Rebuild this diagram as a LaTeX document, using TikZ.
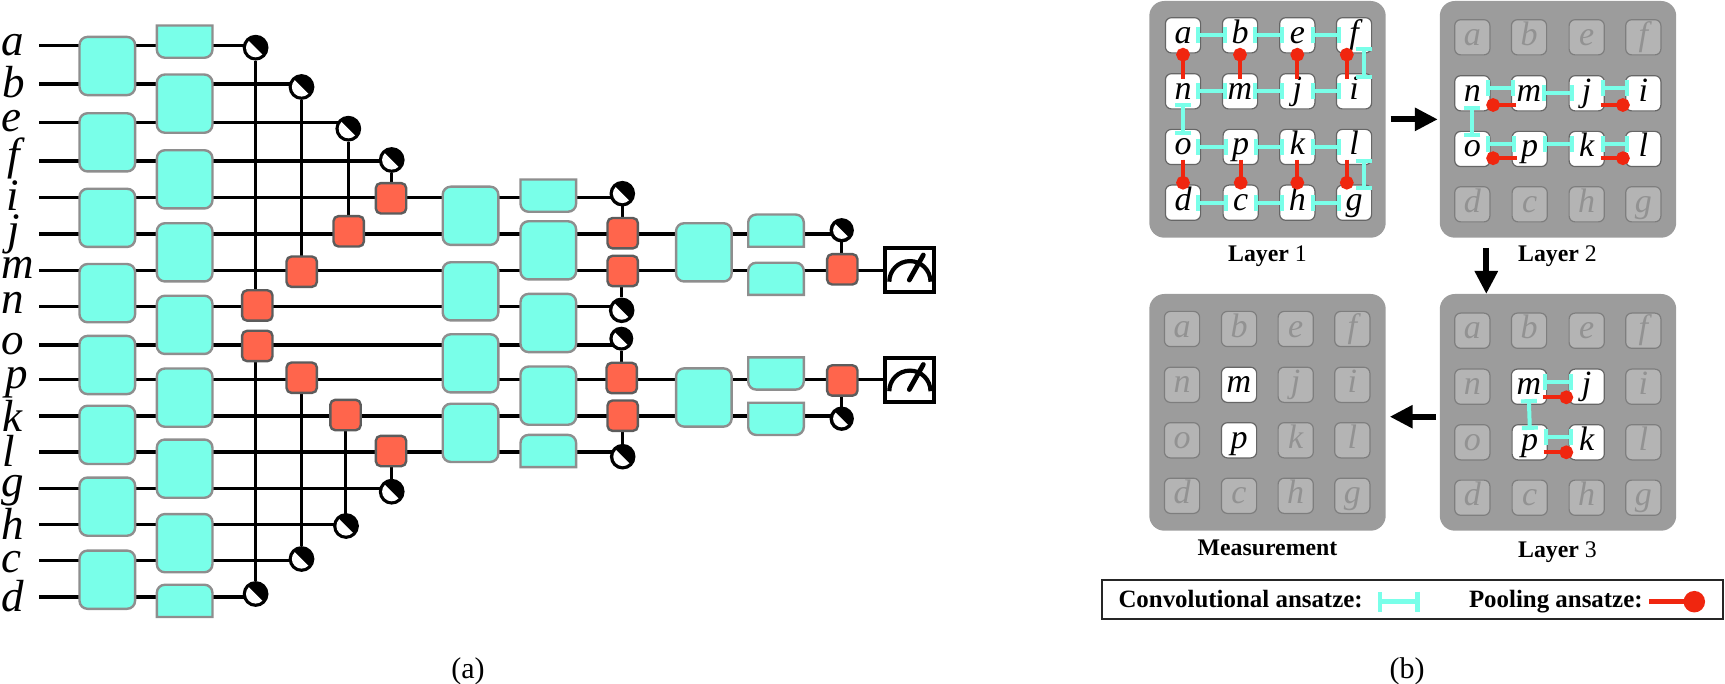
\documentclass[tikz,border=0pt]{standalone}
\usepackage{fontspec}
\setmainfont{Liberation Serif}
\usetikzlibrary{arrows.meta,backgrounds}
\definecolor{gatecyan}{HTML}{79FFE9}
\definecolor{gateedge}{HTML}{8E8E8E}
\definecolor{targetred}{HTML}{FF654C}
\definecolor{targetedge}{HTML}{5C5C5C}
\definecolor{panelgray}{HTML}{9C9C9C}
\definecolor{offfill}{HTML}{B4B4B4}
\definecolor{offedge}{HTML}{7E7E7E}
\definecolor{offtext}{HTML}{929292}
\definecolor{poolred}{HTML}{F0260F}
\tikzset{
  wire/.style={line width=1.65pt,black},
  gatebox/.style={draw=gateedge,fill=gatecyan,line width=1.2pt,rounded corners=4pt,minimum width=27.8pt,minimum height=29.1pt,inner sep=0pt,outer sep=0pt},
  halfnode/.style={minimum width=27.8pt,minimum height=16.1pt,inner sep=0pt,outer sep=0pt},
  halfdraw/.style={draw=gateedge,fill=gatecyan,line width=1.2pt},
  target/.style={draw=targetedge,fill=targetred,line width=1.2pt,rounded corners=2.5pt,minimum size=15.2pt,inner sep=0pt,outer sep=0pt},
  ctrlnode/.style={circle,fill=black,inner sep=0pt,outer sep=0pt},
  wirelabel/.style={anchor=base west,inner sep=0pt,outer sep=0pt,font=\fontsize{22.5}{22.5}\selectfont\itshape},
  panel/.style={fill=panelgray,rounded corners=7.5pt,minimum width=118.2pt,minimum height=118.35pt,inner sep=0pt,outer sep=0pt},
  qon/.style={draw=black!60,fill=white,line width=.6pt,rounded corners=3pt,minimum size=17.6pt,inner sep=0pt,outer sep=0pt,text height=9pt,text depth=1pt,font=\fontsize{17}{17}\selectfont\itshape},
  qoff/.style={qon,draw=offedge,fill=offfill,text=offtext},
  conv/.style={draw=gatecyan,line width=2pt,{Bar[width=8pt]}-{Bar[width=8pt]}},
  pool/.style={draw=poolred,fill=poolred,line width=2pt,-{Circle[length=6.8pt]}},
  flowarrow/.style={line width=3pt,black,-{Triangle[length=11.5pt,width=11pt]}},
  caption/.style={anchor=base,inner sep=0pt,outer sep=0pt,font=\fontsize{11.9}{11.9}\selectfont},
  legendtext/.style={anchor=base west,inner sep=0pt,outer sep=0pt,font=\fontsize{12.45}{12.45}\selectfont\bfseries},
  subcap/.style={anchor=base,inner sep=0pt,outer sep=0pt,font=\fontsize{15}{15}\selectfont},
  meterbox/.style={draw=black,fill=white,line width=2pt,minimum width=24.4pt,minimum height=21.8pt,inner sep=0pt,outer sep=0pt}
}
% control: name, x, y, diameter(pt), inner radius(pt)
\newcommand{\ctrl}[5]{%
  \node[ctrlnode,minimum size=#4] (#1) at (#2,#3) {};
  \fill[white] ([shift={(135:#5)}]#1.center) arc[start angle=135,end angle=315,radius=#5] -- cycle;
}
\newcommand{\halfT}[3]{% flat top
  \node[halfnode] (#1) at (#2,#3) {};
  \draw[halfdraw] (#1.north west) -- (#1.north east) -- ([yshift=4pt]#1.south east) arc[start angle=0,end angle=-90,radius=4pt] -- ([xshift=4pt]#1.south west) arc[start angle=270,end angle=180,radius=4pt] -- cycle;
}
\newcommand{\halfB}[3]{% flat bottom
  \node[halfnode] (#1) at (#2,#3) {};
  \draw[halfdraw] (#1.south west) -- (#1.south east) -- ([yshift=-4pt]#1.north east) arc[start angle=0,end angle=90,radius=4pt] -- ([xshift=4pt]#1.north west) arc[start angle=90,end angle=180,radius=4pt] -- cycle;
}
\newcommand{\meter}[3]{%
  \node[meterbox] (#1) at (#2,#3) {};
  \draw[line width=2.1pt] ([shift={(-10.2pt,-5.7pt)}]#1.center) arc[start angle=180,end angle=0,radius=10.3pt];
  \draw[line width=2.4pt,line cap=round] ([shift={(-.2pt,-4.85pt)}]#1.center) -- ([shift={(6.8pt,7.65pt)}]#1.center);
}
\begin{document}
\begin{tikzpicture}[x=0.5pt,y=-0.5pt]
\useasboundingbox (0,0) rectangle (1725,684);
% wire labels
\node[wirelabel] (la) at (2,55.5) {a};
\node[wirelabel] (lb) at (2.5,98) {b};
\node[wirelabel] (le) at (2,132) {e};
\node[wirelabel] (lf) at (7,170) {f};
\node[wirelabel] (li) at (6.5,211) {i};
\node[wirelabel] (lj) at (7,245) {j};
\node[wirelabel] (lm) at (2,279) {m};
\node[wirelabel] (ln) at (2,314) {n};
\node[wirelabel] (lo) at (2,355) {o};
\node[wirelabel] (lp) at (5,388) {p};
\node[wirelabel] (lk) at (3,431) {k};
\node[wirelabel] (ll) at (3,466.5) {l};
\node[wirelabel] (lg) at (2,496) {g};
\node[wirelabel] (lh) at (2,539.5) {h};
\node[wirelabel] (lc) at (2,572) {c};
\node[wirelabel] (ld) at (2,611) {d};
% wire starts
\foreach \n/\y in {a/45.7,b/84,e/122.7,f/161,i/197.7,j/234,m/270.3,n/306.8,o/345,p/379.5,k/416,l/452,g/488.3,h/524.3,c/560.3,d/597}
  \coordinate (s\n) at (39,\y);
% column 1
\foreach \n/\y in {1/66,2/142.35,3/217.85,4/293.15,5/365,6/434.85,7/506.65,8/579.7}
  \node[gatebox] (A\n) at (107.3,\y) {};
% column 2
\halfT{Bt}{184.65}{41.65}
\foreach \n/\y in {1/103.65,2/179.35,3/252.35,4/324.85,5/397.65,6/468.65,7/543.15}
  \node[gatebox] (B\n) at (184.65,\y) {};
\halfB{Bb}{184.65}{600.85}
% column 3
\foreach \n/\y in {1/215.8,2/291.35,3/363.35,4/432.85}
  \node[gatebox] (C\n) at (470.5,\y) {};
% column 4
\halfT{Dt}{548.3}{195.65}
\foreach \n/\y in {1/250.35,2/323,3/395.65}
  \node[gatebox] (D\n) at (548.3,\y) {};
\halfB{Db}{548.3}{451}
% column 5
\node[gatebox] (E1) at (703.85,252.35) {};
\node[gatebox] (E2) at (703.85,397.5) {};
% column 6
\halfB{F1}{776}{230.65}
\halfB{F2}{776}{278.85}
\halfT{F3}{776}{373.5}
\halfT{F4}{776}{418.85}
% first pooling stage
\ctrl{ca}{255.6}{47.7}{12.9pt}{4.8pt}
\ctrl{cb}{301.5}{87}{12.9pt}{4.8pt}
\ctrl{ce}{348.3}{128.7}{12.9pt}{4.8pt}
\ctrl{cf}{391.7}{160}{12.9pt}{4.8pt}
\ctrl{cg}{391.7}{491.7}{12.9pt}{4.8pt}
\ctrl{ch}{346}{526}{12.9pt}{4.8pt}
\ctrl{cc}{301.5}{559}{12.9pt}{4.8pt}
\ctrl{cd}{255.6}{594}{12.9pt}{4.8pt}
\node[target] (tn) at (257.3,305.5) {};
\node[target] (to) at (257.3,346) {};
\node[target] (tm) at (301.7,271.7) {};
\node[target] (tp) at (301.7,377.7) {};
\node[target] (tj) at (348.7,231.3) {};
\node[target] (tk) at (345.5,415) {};
\node[target] (ti) at (391,198.3) {};
\node[target] (tl) at (391,451) {};
% second pooling stage
\ctrl{ci}{622.3}{193.7}{12.8pt}{4.7pt}
\ctrl{cn}{621.7}{310.3}{12.8pt}{4.7pt}
\ctrl{co}{621.3}{338.7}{12pt}{4.3pt}
\ctrl{cl}{622.7}{456.7}{12.8pt}{4.7pt}
\node[target] (uj) at (622.7,233.2) {};
\node[target] (um) at (622.7,271) {};
\node[target] (up) at (621.7,378) {};
\node[target] (uk) at (622.7,415.7) {};
% third pooling stage
\ctrl{vj}{841.7}{230.3}{12.2pt}{4.3pt}
\ctrl{vk}{841.7}{418.7}{12.2pt}{4.3pt}
\node[target] (vm) at (842.3,269.3) {};
\node[target] (vp) at (842.3,380.5) {};
% meters
\meter{M1}{909.7}{270.3}
\meter{M2}{909.7}{379.8}
% wires behind everything
\begin{scope}[on background layer]
  \draw[wire] (sa) -- (sa -| ca);
  \draw[wire] (sb) -- (sb -| cb);
  \draw[wire] (se) -- (se -| ce);
  \draw[wire] (sf) -- (sf -| cf);
  \draw[wire] (si) -- (si -| ci);
  \draw[wire] (sj) -- (sj -| vj);
  \draw[wire] (sm) -- (sm -| M1.west);
  \draw[wire] (sn) -- (sn -| cn);
  \draw[wire] (so) -- (so -| co);
  \draw[wire] (sp) -- (sp -| M2.west);
  \draw[wire] (sk) -- (sk -| vk);
  \draw[wire] (sl) -- (sl -| cl);
  \draw[wire] (sg) -- (sg -| cg);
  \draw[wire] (sh) -- (sh -| ch);
  \draw[wire] (sc) -- (sc -| cc);
  \draw[wire] (sd) -- (sd -| cd);
  \draw[wire] (ca) -- (ca |- tn);
  \draw[wire] (cb) -- (cb |- tm);
  \draw[wire] (ce) -- (ce |- tj);
  \draw[wire] (cf) -- (cf |- ti);
  \draw[wire] (cd) -- (cd |- to);
  \draw[wire] (cc) -- (cc |- tp);
  \draw[wire] (tk) -- (tk |- ch);
  \draw[wire] (cg) -- (cg |- tl);
  \draw[wire] (ci) -- (ci |- uj);
  \draw[wire] (cn) -- (cn |- um);
  \draw[wire] (co) -- (co |- up);
  \draw[wire] (cl) -- (cl |- uk);
  \draw[wire] (vj) -- (vj |- vm);
  \draw[wire] (vk) -- (vk |- vp);
\end{scope}
% panels
\node[panel] (PA) at (1267.5,119.35) {};
\node[panel] (PB) at (1558,119.35) {};
\node[panel] (PC) at (1558,412.35) {};
\node[panel] (PD) at (1267.5,412.35) {};
% layer 1 grid
\foreach \n/\x/\y in {a/1183/35.3,b/1240/35.3,e/1297.3/35.3,f/1354/35.3,n/1183/91.3,m/1240/91.3,j/1297.3/91.3,i/1354/91.3,o/1183/147,p/1240.7/147,k/1297.3/147,l/1354/147,d/1183/202.7,c/1240.7/202.7,h/1297.3/202.7,g/1354/202.7}
  \node[qon] (Q\n) at (\x,\y) {\n};
% layer 2 grid
\foreach \n/\x/\y in {a/1472.3/37.3,b/1529/37.3,e/1586.7/37.3,f/1643.3/37.3,d/1472.3/204.3,c/1529.7/204.3,h/1586.7/204.3,g/1643.3/204.3}
  \node[qoff] (R\n) at (\x,\y) {\n};
\foreach \n/\x/\y in {n/1472.3/93.3,m/1529/93.3,j/1586.7/93.3,i/1643.3/93.3,o/1472.3/149,p/1529.7/149,k/1586.7/149,l/1643.3/149}
  \node[qon] (R\n) at (\x,\y) {\n};
% layer 3 grid
\foreach \n/\x/\y in {a/1472.3/330.7,b/1529/330.7,e/1586.7/330.7,f/1643.3/330.7,n/1472.3/386.7,i/1643.3/386.7,o/1472.3/442.3,l/1643.3/442.3,d/1472.3/497.7,c/1529.7/497.7,h/1586.7/497.7,g/1643.3/497.7}
  \node[qoff] (S\n) at (\x,\y) {\n};
\foreach \n/\x/\y in {m/1529/386.7,j/1586.7/386.7,p/1529.7/442.3,k/1586.7/442.3}
  \node[qon] (S\n) at (\x,\y) {\n};
% measurement grid
\foreach \n/\x/\y in {a/1182/329,b/1239/329,e/1295.7/329,f/1352.3/329,n/1182/384.8,j/1295.7/384.8,i/1352.3/384.8,o/1182/440.3,k/1295.7/440.3,l/1352.3/440.3,d/1182/495.8,c/1239/495.8,h/1295.7/495.8,g/1352.3/495.8}
  \node[qoff] (T\n) at (\x,\y) {\n};
\foreach \n/\x/\y in {m/1239/384.8,p/1239/440.3}
  \node[qon] (T\n) at (\x,\y) {\n};
% layer 1 convolutions
\foreach \u/\v in {a/b,b/e,e/f,n/m,m/j,j/i,o/p,p/k,k/l,d/c,c/h,h/g}
  \draw[conv,shorten <=-2.2pt,shorten >=-2.2pt] (Q\u.east) -- (Q\u.east -| Q\v.west);
\draw[conv,shorten <=-2.7pt,shorten >=-2.7pt] (Qn.south) -- (Qo.north);
\draw[conv,shorten <=-2.7pt,shorten >=-2.7pt] ([xshift=4.85pt]Qf.south) -- ([xshift=4.85pt]Qi.north);
\draw[conv,shorten <=-2.7pt,shorten >=-2.7pt] ([xshift=4.85pt]Ql.south) -- ([xshift=4.85pt]Qg.north);
% layer 1 pooling
\foreach \u/\v in {n/a,m/b,j/e}
  \draw[pool,shorten <=-2.5pt,shorten >=-2.5pt] (Q\u.north) -- (Q\v.south);
\foreach \u/\v in {o/d,p/c,k/h}
  \draw[pool,shorten <=-2.5pt,shorten >=-2.2pt] (Q\u.south) -- (Q\v.north);
\draw[pool,shorten <=-2.5pt,shorten >=-2.5pt] ([xshift=-3.6pt]Qi.north) -- ([xshift=-3.6pt]Qf.south);
\draw[pool,shorten <=-2.5pt,shorten >=-2.2pt] ([xshift=-3.6pt]Ql.south) -- ([xshift=-3.6pt]Qg.north);
% layer 2
\draw[conv,shorten <=-1.8pt,shorten >=-1.8pt] ([yshift=2.8pt]Rn.east) -- ([yshift=2.8pt]Rm.west);
\draw[conv,shorten <=-2.2pt,shorten >=-2.2pt] (Rm.east) -- (Rj.west);
\draw[conv,shorten <=-1.8pt,shorten >=-1.8pt] ([yshift=2.5pt]Rj.east) -- ([yshift=2.5pt]Ri.west);
\draw[conv,shorten <=-1.8pt,shorten >=-1.8pt] ([yshift=2.5pt]Ro.east) -- ([yshift=2.5pt]Rp.west);
\draw[conv,shorten <=-2.2pt,shorten >=-2.2pt] ([yshift=2.5pt]Rp.east) -- ([yshift=2.5pt]Rk.west);
\draw[conv,shorten <=-1.8pt,shorten >=-1.8pt] ([yshift=2.5pt]Rk.east) -- ([yshift=2.5pt]Rl.west);
\draw[conv,shorten <=-2.6pt,shorten >=-2.6pt] (Rn.south) -- (Ro.north);
\draw[pool,shorten <=-2.3pt,shorten >=-1.8pt] ([yshift=-5.85pt]Rm.west) -- ([yshift=-5.85pt]Rn.east);
\draw[pool,shorten <=-1.9pt,shorten >=-2pt] ([yshift=-5.85pt]Rj.east) -- ([yshift=-5.85pt]Ri.west);
\draw[pool,shorten <=-2.3pt,shorten >=-1.8pt] ([yshift=-4.6pt]Rp.west) -- ([yshift=-4.6pt]Ro.east);
\draw[pool,shorten <=-1.9pt,shorten >=-2pt] ([yshift=-4.6pt]Rk.east) -- ([yshift=-4.6pt]Rl.west);
% layer 3
\draw[conv,shorten <=-1.8pt,shorten >=-1.8pt] ([yshift=2.5pt]Sm.east) -- ([yshift=2.5pt]Sj.west);
\draw[conv,shorten <=-1.8pt,shorten >=-1.8pt] ([yshift=2.5pt]Sp.east) -- ([yshift=2.5pt]Sk.west);
\draw[conv,shorten <=-2.6pt,shorten >=-2.6pt] (Sm.south) -- (Sp.north);
\draw[pool,shorten <=-1.9pt,shorten >=-2pt] ([yshift=-5.3pt]Sm.east) -- ([yshift=-5.3pt]Sj.west);
\draw[pool,shorten <=-1.9pt,shorten >=-2pt] ([yshift=-5pt]Sp.east) -- ([yshift=-5pt]Sk.west);
% flow arrows
\coordinate (fb) at (1486.3,248);
\coordinate (fc) at (1436,416.7);
\draw[flowarrow,shorten <=2.5pt,shorten >=1pt] (PA.east) -- (PB.west);
\draw[flowarrow] (fb) -- (fb |- PC.north);
\draw[flowarrow,shorten >=2pt] (fc) -- (fc -| PD.east);
% captions
\node[caption] (capA) at (1267.5,262) {\bfseries Layer \mdseries 1};
\node[caption] (capB) at (1557.5,262) {\bfseries Layer \mdseries 2};
\node[caption] (capC) at (1557.5,557.3) {\bfseries Layer \mdseries 3};
\node[caption] (capD) at (1267.5,555.5) {\bfseries Measurement};
% legend
\node[draw=black!85,line width=.9pt,minimum width=310.2pt,minimum height=19.6pt,inner sep=0pt,outer sep=0pt] (legend) at (1412.5,599.2) {};
\node[legendtext] (lgc) at (1118.5,607.7) {Convolutional ansatze:};
\node[legendtext] (lgp) at (1469,607.7) {Pooling ansatze:};
\coordinate (lc1) at (1377.5,601.7);
\coordinate (lc2) at (1420,601.7);
\coordinate (lp1) at (1649.3,601.7);
\coordinate (lp2) at (1705,601.7);
\draw[draw=gatecyan,line width=2.3pt,{Bar[width=10pt]}-{Bar[width=10pt]}] (lc1) -- (lc2);
\draw[draw=poolred,fill=poolred,line width=2.5pt,-{Circle[length=10.7pt]}] (lp1) -- (lp2);
% subfigure labels
\node[subcap] (sa0) at (468,678) {(a)};
\node[subcap] (sb0) at (1407,678) {(b)};
\end{tikzpicture}
\end{document}
